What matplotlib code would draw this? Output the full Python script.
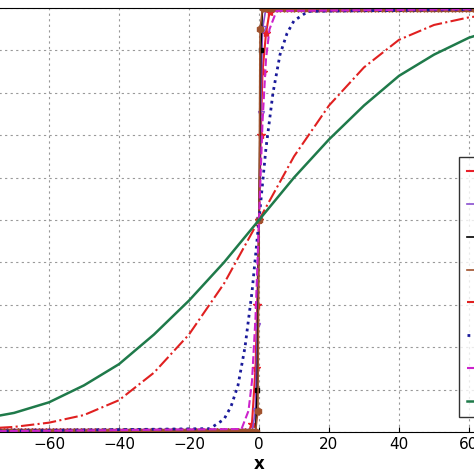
import numpy as np
import matplotlib
matplotlib.use("Agg")
import matplotlib.pyplot as plt

x_step = list(range(-100, 101, 1))
def pad(trans_x, trans_y):
    lo = [v for v in x_step if v < trans_x[0]]
    hi = [v for v in x_step if v > trans_x[-1]]
    return lo + trans_x + hi, [0.0]*len(lo) + trans_y + [1.0]*len(hi)

red_tx = [-2, -1, -0.5, 0, 0.5, 1, 2, 3]
red_ty = [0.02, 0.15, 0.3, 0.5, 0.7, 0.85, 0.94, 0.99]
pur_tx = [-1, -0.5, 0, 0.5, 1]
pur_ty = [0.05, 0.25, 0.5, 0.75, 0.95]
blk_tx = [-0.5, 0, 0.5]
blk_ty = [0.1, 0.5, 0.9]
brn_tx = [-0.3, 0, 0.3]
brn_ty = [0.05, 0.5, 0.95]

red_dd_x = [-100, -85, -70, -60, -50, -40, -30, -20, -10, 0, 10, 20, 30, 40, 50, 60, 70, 85, 100]
red_dd_y = [0.002, 0.005, 0.012, 0.022, 0.04, 0.075, 0.14, 0.23, 0.35, 0.5, 0.65, 0.77, 0.86, 0.925, 0.96, 0.978, 0.988, 0.995, 0.998]
blue_x = [-100, -14, -10, -8, -6, -4, -2, 0, 2, 4, 6, 8, 10, 14, 100]
blue_y = [0.0, 0.008, 0.03, 0.06, 0.11, 0.2, 0.33, 0.5, 0.67, 0.8, 0.89, 0.94, 0.97, 0.992, 1.0]
mag_x = [-100, -5, -3, -2, -1, 0, 1, 2, 3, 5, 100]
mag_y = [0.0, 0.007, 0.05, 0.12, 0.27, 0.5, 0.73, 0.88, 0.95, 0.993, 1.0]
grn_x = [-100, -85, -80, -70, -60, -50, -40, -30, -20, -10, 0, 10, 20, 30, 40, 50, 60, 70, 85, 100]
grn_y = [0.015, 0.025, 0.03, 0.045, 0.07, 0.11, 0.16, 0.23, 0.31, 0.40, 0.5, 0.60, 0.69, 0.77, 0.84, 0.89, 0.93, 0.955, 0.975, 0.985]

labels = ["c1", "c2", "c3", "c4", "c5", "c6", "c7", "c8"]

fig = plt.figure(figsize=(4.74, 4.74), dpi=100)
ax = fig.add_axes([-91/474, 42/474, 700/474, 424/474])

h = []
xs, ys = pad(red_tx, red_ty)
h += ax.plot(xs, ys, color="#e8202a", lw=1.5, marker="*", ms=6)
xs, ys = pad(pur_tx, pur_ty)
h += ax.plot(xs, ys, color="#8a4fd0", lw=1.2, marker="v", ms=5, mfc="none")
xs, ys = pad(blk_tx, blk_ty)
h += ax.plot(xs, ys, color="black", lw=1.2, marker="s", ms=3)
xs, ys = pad(brn_tx, brn_ty)
h += ax.plot(xs, ys, color="#a0522d", lw=1.2, marker="h", ms=5)
h += ax.plot(red_dd_x, red_dd_y, color="#e02020", lw=1.5, ls="-.")
h += ax.plot(blue_x, blue_y, color="#1a1a9a", lw=2, ls=(0, (1, 1.5)))
h += ax.plot(mag_x, mag_y, color="#cc22cc", lw=1.5, ls="--")
h += ax.plot(grn_x, grn_y, color="#1f7a4a", lw=1.8)

ax.set_xlim(-100, 100)
ax.set_ylim(0, 1)
ax.set_xticks(range(-60, 61, 20))
ax.set_yticks(np.arange(0, 1.01, 0.1))
ax.set_yticklabels([])
ax.grid(True, color="#999999", ls=(0, (2, 3)), lw=0.8)
ax.tick_params(labelsize=11, direction="in")
ax.set_xlabel("x", fontsize=12, fontweight="bold", labelpad=2)

fig.legend(h, labels, loc="upper left", bbox_to_anchor=(452/474, 1 - 150/474),
           frameon=True, fancybox=False, edgecolor="black", fontsize=10,
           handlelength=2.2, labelspacing=1.35, borderpad=0.6)

fig.savefig("out.png", dpi=100)
